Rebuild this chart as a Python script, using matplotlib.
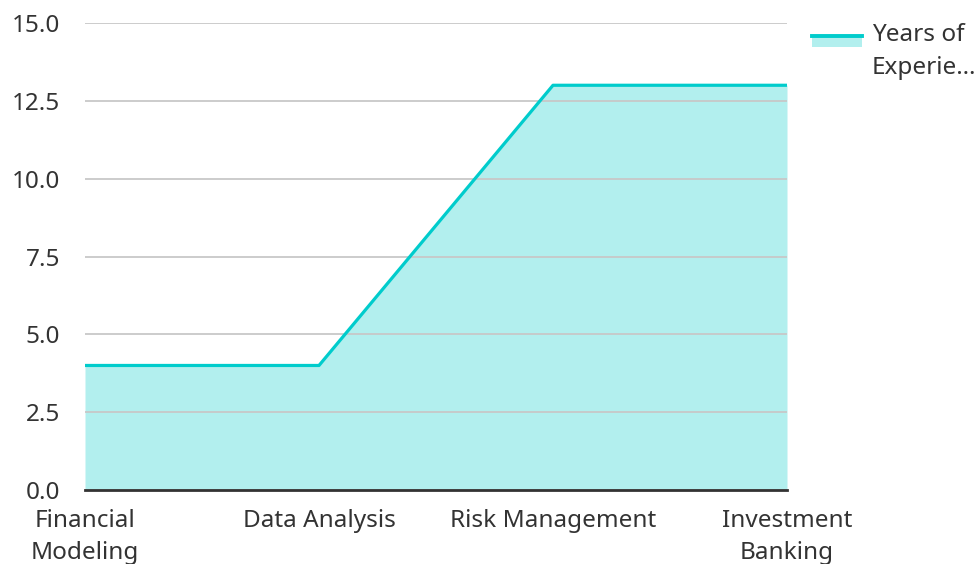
import matplotlib.pyplot as plt
from matplotlib.patches import Rectangle
from matplotlib.lines import Line2D

plt.rcParams['font.family'] = ['Noto Sans', 'DejaVu Sans']

# data
skills = ["Financial\nModeling", "Data Analysis", "Risk Management", "Investment\nBanking"]
years = [4, 4, 13, 13]
yticks = [0, 2.5, 5, 7.5, 10, 12.5, 15]
series_name = "Years of\nExperie\u2026"

line_col = "#00CCCC"
fill_col = "#B2EFEE"
fs = 17.5
W, H = 979, 564

fig = plt.figure(figsize=(W/100, H/100), dpi=100)
ax = fig.add_axes([85/W, 1-490/H, (787-85)/W, (490-23)/H])

x = range(len(skills))
ax.fill_between(x, years, 0, color=fill_col, linewidth=0)
ax.plot(x, years, color=line_col, linewidth=2.3)

ax.set_xlim(0, len(skills)-1)
ax.set_ylim(0, 15)
ax.set_yticks(yticks)
ax.set_yticklabels(["%.1f" % v for v in yticks])
ax.set_xticks(list(x))
ax.set_xticklabels(skills)
ax.tick_params(length=0, labelsize=fs, colors="#333333")
ax.tick_params(axis='y', pad=18)
ax.tick_params(axis='x', pad=13.5)
for lab in ax.get_xticklabels():
    lab.set_linespacing(1.45)

ax.grid(axis='y', color="#c8c8c8", linewidth=1.3)
for s in ['top', 'right', 'left']:
    ax.spines[s].set_visible(False)
ax.spines['bottom'].set_color("#333333")
ax.spines['bottom'].set_linewidth(2)
ax.spines['bottom'].set_zorder(5)

# legend drawn by hand: swatch with line on top, two-line label
fig.add_artist(Rectangle((812/W, 1-47/H), 50/W, 12/H, transform=fig.transFigure,
                         facecolor=fill_col, edgecolor='none'))
fig.add_artist(Line2D([812/W, 862/W], [1-36/H, 1-36/H], transform=fig.transFigure,
                      color=line_col, linewidth=2.8))
fig.text(872/W, 1-23/H, series_name, fontsize=fs, color="#333333", va='top', ha='left',
         linespacing=1.5)

fig.savefig("out.png", dpi=100)
